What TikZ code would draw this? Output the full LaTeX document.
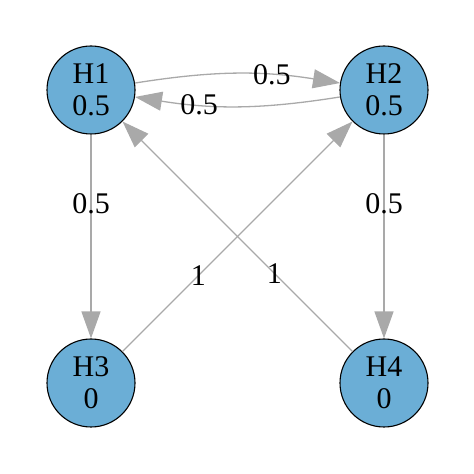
\documentclass[tikz,border=0pt]{standalone}
\usepackage{fontspec}
\setmainfont{Liberation Serif}
\usetikzlibrary{arrows.meta}
\definecolor{hubblue}{HTML}{6BAED6}
\definecolor{edgegray}{HTML}{A9A9A9}
\tikzset{
  hub/.style={circle, draw=black, line width=1.1pt, fill=hubblue, minimum size=88pt,
    inner sep=0pt, align=center, font=\fontsize{30}{32}\selectfont},
  link/.style={draw=edgegray, line width=1.3pt, -{Triangle[length=27pt,width=19pt]}},
  wt/.style={font=\fontsize{30}{32}\selectfont, inner sep=1pt}
}
\begin{document}
\begin{tikzpicture}[x=1pt, y=1pt]
    \useasboundingbox (0,0) rectangle (474,474);
    % Hubs
    \node[hub] (h1) at (91,384) {H1\\0.5};
    \node[hub] (h2) at (384,384) {H2\\0.5};
    \node[hub] (h3) at (91,91) {H3\\0};
    \node[hub] (h4) at (384,91) {H4\\0};
    % Links between top hubs
    \draw[link] (h1) to[bend left=9] node[wt, pos=0.68] {0.5} (h2);
    \draw[link] (h2) to[bend left=9] node[wt, pos=0.7] {0.5} (h1);
    % Vertical links
    \draw[link] (h1) -- node[wt, pos=0.34] {0.5} (h3);
    \draw[link] (h2) -- node[wt, pos=0.34] {0.5} (h4);
    % Crossing links
    \draw[link] (h3) -- node[wt, pos=0.33] {1} (h2);
    \draw[link] (h4) -- node[wt, pos=0.34] {1} (h1);
\end{tikzpicture}
\end{document}
